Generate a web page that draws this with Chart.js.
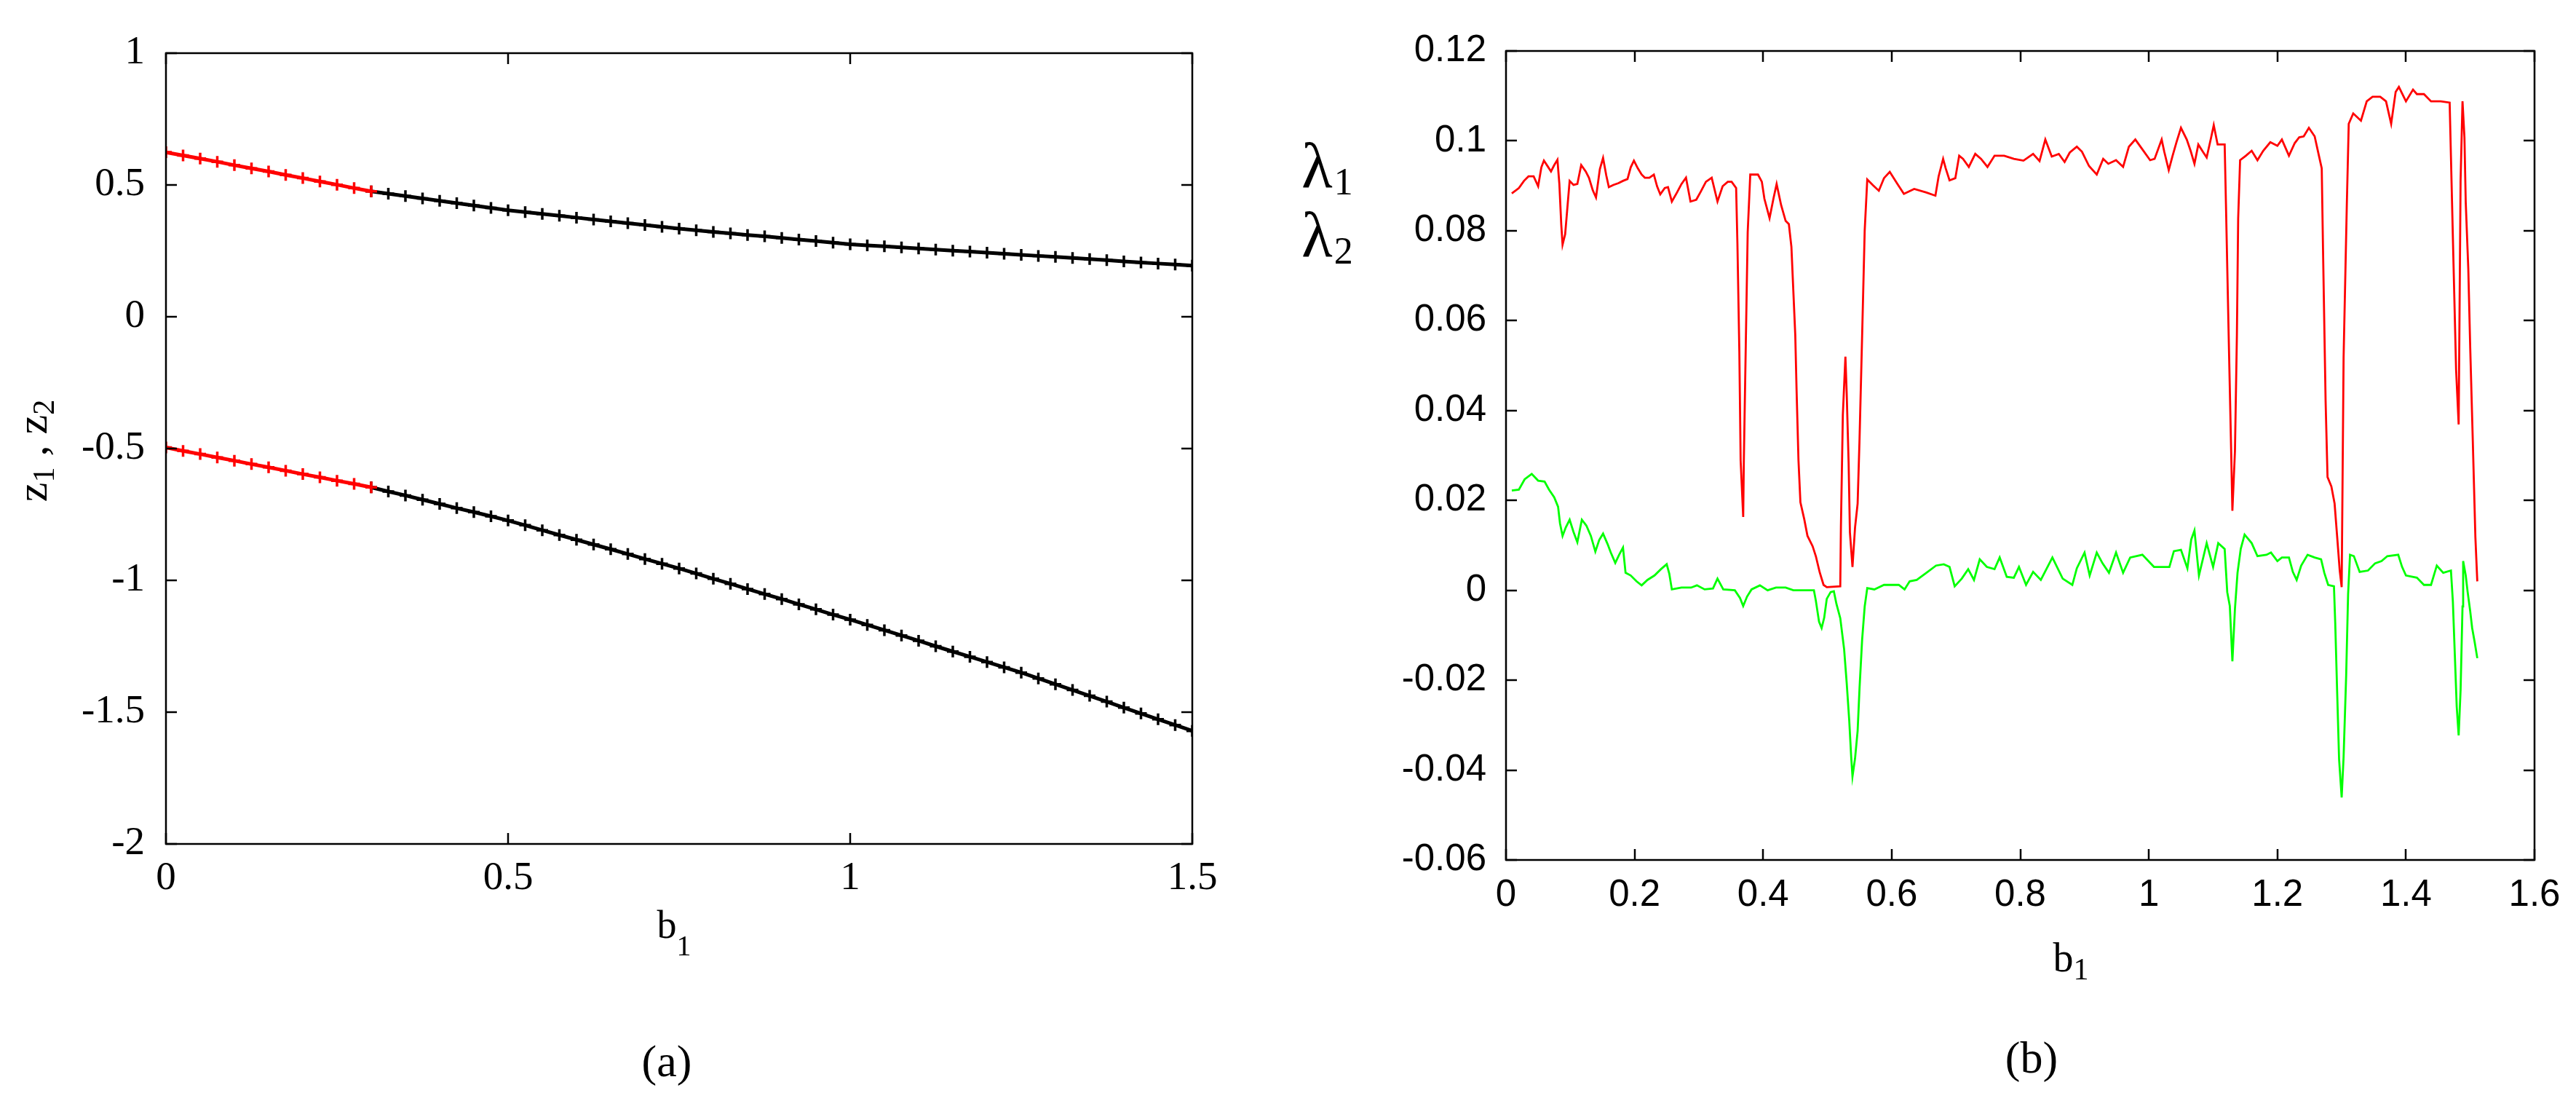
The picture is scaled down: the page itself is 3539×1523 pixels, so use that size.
<!DOCTYPE html>
<html>
<head>
<meta charset="utf-8">
<script src="https://cdn.jsdelivr.net/npm/chart.js@4.4.1/dist/chart.umd.min.js"></script>
<style>
  html, body { margin: 0; padding: 0; background: #fff; }
  body { width: 3539px; height: 1523px; position: relative; overflow: hidden; }
  canvas { position: absolute; top: 0; }
  #chartA { left: 0; }
  #chartB { left: 1770px; }
</style>
</head>
<body>
<canvas id="chartA" width="1770" height="1523"></canvas>
<canvas id="chartB" width="1769" height="1523"></canvas>
<script>
// ---- panel (a): z1, z2 against b1 ----
const bA = [0, 0.025, 0.05, 0.075, 0.1, 0.125, 0.15, 0.175, 0.2, 0.225, 0.25, 0.275, 0.3,
  0.325, 0.35, 0.375, 0.4, 0.425, 0.45, 0.475, 0.5, 0.525, 0.55, 0.575, 0.6, 0.625, 0.65,
  0.675, 0.7, 0.725, 0.75, 0.775, 0.8, 0.825, 0.85, 0.875, 0.9, 0.925, 0.95, 0.975, 1.0,
  1.025, 1.05, 1.075, 1.1, 1.125, 1.15, 1.175, 1.2, 1.225, 1.25, 1.275, 1.3, 1.325, 1.35,
  1.375, 1.4, 1.425, 1.45, 1.475, 1.5];
const z1 = [0.624, 0.612, 0.600, 0.588, 0.575, 0.563, 0.551, 0.538, 0.526, 0.513, 0.501, 0.488, 0.476,
  0.467, 0.458, 0.449, 0.440, 0.431, 0.422, 0.413, 0.404, 0.397, 0.390, 0.383, 0.376, 0.369, 0.362,
  0.355, 0.348, 0.341, 0.334, 0.328, 0.322, 0.316, 0.310, 0.305, 0.299, 0.293, 0.287, 0.281, 0.275,
  0.271, 0.267, 0.263, 0.259, 0.255, 0.251, 0.247, 0.243, 0.239, 0.235, 0.231, 0.227, 0.223, 0.219,
  0.215, 0.210, 0.206, 0.202, 0.198, 0.194];
const z2 = [-0.496, -0.509, -0.521, -0.534, -0.546, -0.559, -0.571, -0.584, -0.597, -0.609, -0.622, -0.634, -0.647,
  -0.663, -0.678, -0.694, -0.710, -0.726, -0.741, -0.757, -0.773, -0.791, -0.810, -0.828, -0.846, -0.864, -0.882,
  -0.900, -0.919, -0.937, -0.955, -0.974, -0.994, -1.013, -1.033, -1.052, -1.071, -1.091, -1.110, -1.130, -1.149,
  -1.169, -1.189, -1.209, -1.229, -1.250, -1.270, -1.290, -1.310, -1.330, -1.350, -1.372, -1.394, -1.416, -1.438,
  -1.460, -1.483, -1.505, -1.527, -1.549, -1.571];
const redEnd = 12; // b1 = 0.3, where the red part stops
const xTicksA = { min: 0, max: 1.5, step: 0.5 };
const yTicksA = { min: -2, max: 1, step: 0.5 };

// ---- panel (b): lambda1, lambda2 against b1 ----
const lam1B = [0.009, 0.020, 0.028, 0.035, 0.043, 0.050, 0.055, 0.059, 0.065, 0.070, 0.075, 0.080, 0.083, 0.086,
  0.088, 0.092, 0.095, 0.099, 0.105, 0.111, 0.117, 0.124, 0.129, 0.135, 0.140, 0.146, 0.151, 0.156, 0.160, 0.167,
  0.175, 0.182, 0.189, 0.194, 0.199, 0.205, 0.211, 0.216, 0.223, 0.230, 0.235, 0.240, 0.247, 0.252, 0.258, 0.266,
  0.273, 0.280, 0.287, 0.296, 0.303, 0.311, 0.320, 0.329, 0.337, 0.345, 0.351, 0.358, 0.360, 0.363, 0.365, 0.369,
  0.370, 0.373, 0.376, 0.380, 0.392, 0.398, 0.402, 0.410, 0.416, 0.421, 0.428, 0.435, 0.440, 0.444, 0.447, 0.450,
  0.452, 0.455, 0.458, 0.464, 0.469, 0.477, 0.482, 0.488, 0.494, 0.499, 0.520, 0.521, 0.524, 0.528, 0.530, 0.533,
  0.535, 0.539, 0.543, 0.547, 0.550, 0.554, 0.558, 0.562, 0.571, 0.580, 0.588, 0.597, 0.609, 0.619, 0.635, 0.654,
  0.668, 0.673, 0.680, 0.684, 0.690, 0.699, 0.705, 0.711, 0.720, 0.730, 0.739, 0.749, 0.760, 0.775, 0.790, 0.805,
  0.820, 0.830, 0.839, 0.849, 0.860, 0.869, 0.877, 0.888, 0.896, 0.907, 0.919, 0.929, 0.937, 0.949, 0.960, 0.969,
  0.979, 0.990, 1.002, 1.009, 1.020, 1.024, 1.031, 1.037, 1.043, 1.050, 1.059, 1.065, 1.071, 1.077, 1.084, 1.090,
  1.097, 1.101, 1.107, 1.118, 1.120, 1.124, 1.128, 1.130, 1.134, 1.137, 1.139, 1.142, 1.151, 1.160, 1.169, 1.178,
  1.189, 1.200, 1.207, 1.218, 1.227, 1.234, 1.241, 1.249, 1.258, 1.264, 1.269, 1.271, 1.275, 1.278, 1.284, 1.289,
  1.293, 1.297, 1.300, 1.303, 1.308, 1.311, 1.318, 1.330, 1.339, 1.348, 1.360, 1.369, 1.377, 1.384, 1.389, 1.400,
  1.411, 1.417, 1.428, 1.439, 1.454, 1.468, 1.470, 1.474, 1.478, 1.482, 1.485, 1.488, 1.491, 1.493, 1.497, 1.500,
  1.504, 1.508, 1.511];
const lam1 = [0.0883, 0.0895, 0.0911, 0.0921, 0.0921, 0.0899, 0.0941, 0.0956, 0.0943, 0.0932, 0.0946, 0.0958, 0.0904, 0.0813,
  0.0769, 0.0792, 0.0843, 0.0911, 0.0902, 0.0904, 0.0946, 0.0932, 0.0918, 0.0890, 0.0874, 0.0937, 0.0962, 0.0923, 0.0897, 0.0902,
  0.0906, 0.0911, 0.0915, 0.0941, 0.0956, 0.0939, 0.0925, 0.0918, 0.0918, 0.0925, 0.0899, 0.0881, 0.0895, 0.0897, 0.0865, 0.0885,
  0.0904, 0.0918, 0.0865, 0.0869, 0.0887, 0.0909, 0.0918, 0.0865, 0.0899, 0.0909, 0.0909, 0.0895, 0.0772, 0.0531, 0.0289, 0.0163,
  0.0289, 0.0545, 0.0797, 0.0925, 0.0925, 0.0909, 0.0871, 0.0828, 0.0871, 0.0904, 0.0857, 0.0822, 0.0815, 0.0764, 0.0666, 0.0568,
  0.0447, 0.0289, 0.0196, 0.0158, 0.0121, 0.0098, 0.0076, 0.0040, 0.0012, 0.0007, 0.0009, 0.0140, 0.0390, 0.0520, 0.0438, 0.0284,
  0.0129, 0.0052, 0.0140, 0.0193, 0.0337, 0.0566, 0.0800, 0.0914, 0.0901, 0.0889, 0.0917, 0.0931, 0.0904, 0.0882, 0.0893, 0.0885,
  0.0878, 0.0921, 0.0960, 0.0939, 0.0912, 0.0917, 0.0967, 0.0960, 0.0942, 0.0971, 0.0960, 0.0942, 0.0967, 0.0967, 0.0960, 0.0956,
  0.0971, 0.0955, 0.1003, 0.0965, 0.0971, 0.0953, 0.0974, 0.0987, 0.0976, 0.0944, 0.0925, 0.0960, 0.0949, 0.0957, 0.0942, 0.0987,
  0.1003, 0.0981, 0.0957, 0.0960, 0.1003, 0.0976, 0.0935, 0.0967, 0.0997, 0.1029, 0.1003, 0.0978, 0.0949, 0.0992, 0.0976, 0.0963,
  0.1008, 0.1035, 0.0992, 0.0992, 0.0859, 0.0582, 0.0316, 0.0177, 0.0310, 0.0566, 0.0827, 0.0957, 0.0967, 0.0978, 0.0957, 0.0978,
  0.0997, 0.0989, 0.1003, 0.0967, 0.0995, 0.1008, 0.1010, 0.1029, 0.1010, 0.0971, 0.0939, 0.0758, 0.0422, 0.0252, 0.0231, 0.0193,
  0.0119, 0.0044, 0.0007, 0.0518, 0.0857, 0.1038, 0.1061, 0.1045, 0.1088, 0.1098, 0.1098, 0.1088, 0.1038, 0.1109, 0.1120, 0.1088,
  0.1114, 0.1104, 0.1104, 0.1088, 0.1088, 0.1085, 0.0965, 0.0726, 0.0491, 0.0369, 0.0912, 0.1088, 0.1008, 0.0864, 0.0715, 0.0539,
  0.0332, 0.0119, 0.0020];
const lam2B = [0.009, 0.020, 0.029, 0.040, 0.050, 0.060, 0.067, 0.075, 0.081, 0.084, 0.088, 0.093, 0.099, 0.105,
  0.111, 0.118, 0.125, 0.132, 0.139, 0.145, 0.151, 0.158, 0.163, 0.170, 0.176, 0.182, 0.186, 0.194, 0.203, 0.211,
  0.220, 0.231, 0.241, 0.250, 0.254, 0.258, 0.273, 0.288, 0.297, 0.309, 0.322, 0.329, 0.338, 0.356, 0.364, 0.369,
  0.375, 0.382, 0.395, 0.407, 0.420, 0.435, 0.447, 0.479, 0.482, 0.487, 0.491, 0.495, 0.499, 0.505, 0.510, 0.514,
  0.520, 0.526, 0.530, 0.534, 0.537, 0.539, 0.543, 0.547, 0.550, 0.554, 0.558, 0.562, 0.573, 0.588, 0.611, 0.620,
  0.628, 0.639, 0.654, 0.669, 0.681, 0.690, 0.698, 0.709, 0.719, 0.728, 0.737, 0.748, 0.760, 0.768, 0.779, 0.790,
  0.798, 0.809, 0.820, 0.832, 0.850, 0.866, 0.881, 0.888, 0.900, 0.908, 0.919, 0.928, 0.938, 0.949, 0.960, 0.971,
  0.990, 1.008, 1.032, 1.039, 1.050, 1.060, 1.066, 1.071, 1.078, 1.090, 1.100, 1.108, 1.118, 1.122, 1.126, 1.130,
  1.134, 1.138, 1.143, 1.149, 1.160, 1.169, 1.183, 1.190, 1.200, 1.207, 1.218, 1.224, 1.230, 1.237, 1.247, 1.258,
  1.268, 1.273, 1.279, 1.288, 1.290, 1.293, 1.296, 1.300, 1.303, 1.307, 1.310, 1.313, 1.319, 1.328, 1.341, 1.352,
  1.362, 1.371, 1.388, 1.394, 1.400, 1.417, 1.428, 1.439, 1.448, 1.458, 1.470, 1.473, 1.476, 1.479, 1.482, 1.485,
  1.488, 1.489, 1.493, 1.496, 1.500, 1.503, 1.507, 1.511];
const lam2 = [0.0222, 0.0224, 0.0247, 0.0259, 0.0244, 0.0242, 0.0224, 0.0207, 0.0186, 0.0149, 0.0121, 0.0140, 0.0157, 0.0130,
  0.0107, 0.0157, 0.0144, 0.0121, 0.0086, 0.0112, 0.0126, 0.0103, 0.0084, 0.0061, 0.0079, 0.0095, 0.0039, 0.0033, 0.0020, 0.0011,
  0.0023, 0.0033, 0.0047, 0.0058, 0.0037, 0.0002, 0.0006, 0.0006, 0.0011, 0.0002, 0.0004, 0.0026, 0.0002, 0.0000, -0.0017, -0.0035,
  -0.0014, 0.0002, 0.0011, 0.0000, 0.0006, 0.0006, 0.0000, 0.0000, -0.0023, -0.0070, -0.0084, -0.0061, -0.0019, -0.0004, -0.0002, -0.0030,
  -0.0062, -0.0131, -0.0206, -0.0291, -0.0371, -0.0414, -0.0374, -0.0313, -0.0217, -0.0110, -0.0036, 0.0005, 0.0002, 0.0012, 0.0012, 0.0002,
  0.0020, 0.0023, 0.0039, 0.0055, 0.0058, 0.0052, 0.0009, 0.0026, 0.0047, 0.0023, 0.0069, 0.0052, 0.0047, 0.0073, 0.0030, 0.0028,
  0.0052, 0.0012, 0.0041, 0.0023, 0.0073, 0.0026, 0.0012, 0.0049, 0.0084, 0.0033, 0.0084, 0.0060, 0.0039, 0.0084, 0.0039, 0.0073,
  0.0079, 0.0052, 0.0052, 0.0087, 0.0090, 0.0049, 0.0113, 0.0133, 0.0033, 0.0105, 0.0052, 0.0105, 0.0092, -0.0004, -0.0035, -0.0158,
  -0.0041, 0.0039, 0.0092, 0.0124, 0.0105, 0.0076, 0.0079, 0.0084, 0.0065, 0.0073, 0.0073, 0.0041, 0.0023, 0.0055, 0.0079, 0.0073,
  0.0069, 0.0039, 0.0012, 0.0009, -0.0073, -0.0227, -0.0376, -0.0461, -0.0371, -0.0190, -0.0009, 0.0079, 0.0076, 0.0041, 0.0044, 0.0060,
  0.0065, 0.0076, 0.0079, 0.0052, 0.0033, 0.0028, 0.0012, 0.0012, 0.0055, 0.0039, 0.0044, -0.0025, -0.0142, -0.0259, -0.0323, -0.0222,
  -0.0036, 0.0065, 0.0033, -0.0004, -0.0047, -0.0084, -0.0116, -0.0151];
const xTicksB = { min: 0, max: 1.6, step: 0.2 };
const yTicksB = { min: -0.06, max: 0.12, step: 0.02 };

const SERIF = '"Liberation Serif", "Times New Roman", serif';
const SANS = '"Liberation Sans", Arial, sans-serif';

const pts = (xs, ys) => xs.map((x, i) => ({ x: x, y: ys[i] }));

// box round the plot with the ticks pointing inwards on all four sides
const frameTicks = {
  id: "frameTicks",
  afterDraw(chart, args, opts) {
    const { ctx, chartArea: a, scales } = chart;
    ctx.save();
    ctx.strokeStyle = "#000";
    ctx.lineWidth = opts.width;
    ctx.beginPath();
    scales.x.ticks.forEach(t => {
      const px = Math.round(scales.x.getPixelForValue(t.value));
      ctx.moveTo(px, a.bottom); ctx.lineTo(px, a.bottom - opts.len);
      ctx.moveTo(px, a.top); ctx.lineTo(px, a.top + opts.len);
    });
    scales.y.ticks.forEach(t => {
      const py = Math.round(scales.y.getPixelForValue(t.value));
      ctx.moveTo(a.left, py); ctx.lineTo(a.left + opts.len, py);
      ctx.moveTo(a.right, py); ctx.lineTo(a.right - opts.len, py);
    });
    ctx.stroke();
    ctx.strokeRect(a.left, a.top, a.right - a.left, a.bottom - a.top);
    ctx.restore();
  }
};

// writes pieces of text one after another, [text, size, drop], centred on x
function drawParts(ctx, parts, x, y) {
  const widths = parts.map(p => {
    ctx.font = p[1] + "px " + SERIF;
    return ctx.measureText(p[0]).width;
  });
  let cx = x - widths.reduce((s, w) => s + w, 0) / 2;
  ctx.textAlign = "left";
  ctx.textBaseline = "alphabetic";
  parts.forEach((p, i) => {
    ctx.font = p[1] + "px " + SERIF;
    ctx.fillText(p[0], cx, y + p[2]);
    cx += widths[i];
  });
}

const labelsA = {
  id: "labelsA",
  afterDraw(chart) {
    const ctx = chart.ctx;
    ctx.save();
    ctx.fillStyle = "#000";
    ctx.translate(0, 619);
    ctx.rotate(-Math.PI / 2);
    drawParts(ctx, [["z", 60, 0], ["1", 42, 10], [" , ", 60, 0], ["z", 60, 0], ["2", 42, 10]], 0, 64);
    ctx.restore();
    ctx.save();
    ctx.fillStyle = "#000";
    drawParts(ctx, [["b", 54, 0], ["1", 40, 24]], 926, 1288);
    ctx.font = "62px " + SERIF;
    ctx.textAlign = "center";
    ctx.textBaseline = "middle";
    ctx.fillText("(a)", 916, 1462);
    ctx.restore();
  }
};

const labelsB = {
  id: "labelsB",
  afterDraw(chart) {
    const ctx = chart.ctx;
    ctx.save();
    ctx.fillStyle = "#000";
    ctx.textAlign = "left";
    ctx.textBaseline = "alphabetic";
    [["1", 258], ["2", 353]].forEach(([n, base]) => {
      ctx.font = "88px " + SERIF;
      ctx.fillText("\u03bb", 18, base);
      const w = ctx.measureText("\u03bb").width;
      ctx.font = "52px " + SERIF;
      ctx.fillText(n, 18 + w + 2, base + 9);
    });
    drawParts(ctx, [["b", 56, 0], ["1", 42, 11]], 1075, 1334);
    ctx.font = "62px " + SERIF;
    ctx.textAlign = "center";
    ctx.textBaseline = "middle";
    ctx.fillText("(b)", 1021, 1457);
    ctx.restore();
  }
};

// tick labels as plain numbers: 1 not 1.0, 0.1 not 0.10
const plain = v => String(Math.round(v * 10000) / 10000);

function axis(t, font, pad, extra) {
  return Object.assign({
    type: "linear",
    min: t.min,
    max: t.max,
    grid: { display: false },
    border: { display: false },
    ticks: {
      stepSize: t.step,
      autoSkip: false,
      maxRotation: 0,
      color: "#000",
      padding: pad,
      font: font,
      callback: plain
    }
  }, extra);
}

const crossSet = (data, color) => ({
  data: data,
  showLine: true,
  borderColor: color,
  backgroundColor: color,
  borderWidth: 5,
  pointStyle: "cross",
  pointRadius: 8,
  pointBorderWidth: 3.5,
  pointBorderColor: color,
  tension: 0
});

const serifTicks = { family: SERIF, size: 55, lineHeight: 1 };
const sansTicks = { family: SANS, size: 51, lineHeight: 1 };

new Chart(document.getElementById("chartA"), {
  type: "scatter",
  data: {
    datasets: [
      crossSet(pts(bA.slice(0, redEnd + 1), z1.slice(0, redEnd + 1)), "#ff0000"),
      crossSet(pts(bA.slice(redEnd), z1.slice(redEnd)), "#000000"),
      crossSet(pts(bA.slice(0, redEnd + 1), z2.slice(0, redEnd + 1)), "#ff0000"),
      crossSet(pts(bA.slice(redEnd), z2.slice(redEnd)), "#000000")
    ]
  },
  options: {
    responsive: false,
    devicePixelRatio: 1,
    animation: false,
    layout: { padding: { left: 0, top: 73, right: 132, bottom: 0 } },
    plugins: { legend: { display: false }, tooltip: { enabled: false }, frameTicks: { width: 2.5, len: 15 } },
    scales: {
      x: axis(xTicksA, serifTicks, 12, { position: "bottom", afterFit: s => { s.height = 364; } }),
      y: axis(yTicksA, serifTicks, 21, { position: "left", afterFit: s => { s.width = 228; } })
    }
  },
  plugins: [frameTicks, labelsA]
});

new Chart(document.getElementById("chartB"), {
  type: "scatter",
  data: {
    datasets: [
      { data: pts(lam1B, lam1), showLine: true, borderColor: "#ff0000", borderWidth: 2.8, pointRadius: 0, tension: 0 },
      { data: pts(lam2B, lam2), showLine: true, borderColor: "#00ff00", borderWidth: 2.8, pointRadius: 0, tension: 0 }
    ]
  },
  options: {
    responsive: false,
    devicePixelRatio: 1,
    animation: false,
    layout: { padding: { left: 0, top: 70, right: 57, bottom: 0 } },
    plugins: { legend: { display: false }, tooltip: { enabled: false }, frameTicks: { width: 2.5, len: 15 } },
    scales: {
      x: axis(xTicksB, sansTicks, 15, { position: "bottom", afterFit: s => { s.height = 342; } }),
      y: axis(yTicksB, sansTicks, 19, { position: "left", afterFit: s => { s.width = 299; } })
    }
  },
  plugins: [frameTicks, labelsB]
});
</script>
</body>
</html>
